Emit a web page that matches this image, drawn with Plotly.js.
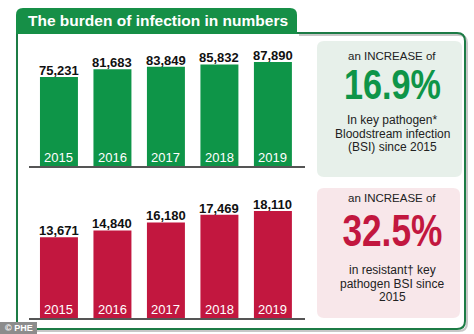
<!DOCTYPE html>
<html>
<head>
<meta charset="utf-8">
<script src="https://cdn.plot.ly/plotly-3.0.1.min.js"></script>
<style>html,body{margin:0;padding:0;background:#fff;}#chart{width:474px;height:334px;}</style>
</head>
<body>
<div id="chart"></div>
<script>
// ---- data ----
const years = ["2015", "2016", "2017", "2018", "2019"];
const bsiTotal = [75231, 81683, 83849, 85832, 87890];
const bsiResistant = [13671, 14840, 16180, 17469, 18110];
const chartTitle = "The burden of infection in numbers";
const topLead = "an INCREASE of";
const topBig = "16.9%";
const topLines = ["In key pathogen*", "Bloodstream infection", "(BSI) since 2015"];
const botLead = "an INCREASE of";
const botBig = "32.5%";
const botLines = ["in resistant\u2020 key", "pathogen BSI since", "2015"];
const credit = "\u00a9 PHE";

// ---- helpers (pixel -> paper) ----
const W = 474, H = 334;
const X = x => x / W;
const Y = y => 1 - y / H;
function P(cmds) {
  return cmds.map(c => {
    const l = c[0]; const v = c.slice(1);
    if (l === 'Z') return 'Z';
    const out = [];
    for (let i = 0; i < v.length; i += 2) out.push(X(v[i]).toFixed(5) + ',' + Y(v[i+1]).toFixed(5));
    return l + out.join(' ');
  }).join(' ');
}
function rrect(x0, y0, x1, y1, r) {
  return P([['M', x0 + r, y0], ['L', x1 - r, y0], ['Q', x1, y0, x1, y0 + r], ['L', x1, y1 - r],
            ['Q', x1, y1, x1 - r, y1], ['L', x0 + r, y1], ['Q', x0, y1, x0, y1 - r], ['L', x0, y0 + r],
            ['Q', x0, y0, x0 + r, y0], ['Z']]);
}

const GREEN = '#0e9548', RED = '#c2173f';
const BASEFONT = 'Liberation Sans, Arial, sans-serif';

const traces = [
  {type: 'bar', x: years, y: bsiTotal, xaxis: 'x', yaxis: 'y', marker: {color: GREEN}, width: 0.71, hoverinfo: 'none'},
  {type: 'bar', x: years, y: bsiResistant, xaxis: 'x2', yaxis: 'y2', marker: {color: RED}, width: 0.71, hoverinfo: 'none'}
];

const annotations = [];
function barLabels(vals, xr, yr) {
  years.forEach((yl, i) => {
    annotations.push({x: i, y: vals[i], xref: xr, yref: yr, text: '<b>' + vals[i].toLocaleString('en-US') + '</b>',
      showarrow: false, xanchor: 'center', yanchor: 'middle', yshift: 6.5, font: {family: BASEFONT, size: 13, color: '#111'}});
    annotations.push({x: i, y: 0, xref: xr, yref: yr, text: yl, showarrow: false, xanchor: 'center', yanchor: 'middle', yshift: 8.5,
      font: {family: BASEFONT, size: 13, color: '#fff'}});
  });
}
barLabels(bsiTotal, 'x', 'y');
barLabels(bsiResistant, 'x2', 'y2');

// title
annotations.push({x: X(26), y: Y(20), xref: 'paper', yref: 'paper', xanchor: 'left', yanchor: 'middle',
  text: '<b>' + chartTitle + '</b>', showarrow: false, font: {family: BASEFONT, size: 15.5, color: '#fff'}});

const bigWidths = {};
function panelText(cx, leadY, lead, bigY, big, bigSize, bigW, color, lineY0, lines) {
  annotations.push({x: X(cx), y: Y(leadY), xref: 'paper', yref: 'paper', text: lead, showarrow: false,
    xanchor: 'center', yanchor: 'middle', font: {family: BASEFONT, size: 11.5, color: '#222'}});
  annotations.push({x: X(cx), y: Y(bigY), xref: 'paper', yref: 'paper', text: '<b>' + big + '</b>', showarrow: false,
    xanchor: 'center', yanchor: 'middle', font: {family: BASEFONT, size: bigSize, color: color}});
  bigWidths[big] = bigW;
  lines.forEach((t, i) => annotations.push({x: X(cx), y: Y(lineY0 + i * 13.5), xref: 'paper', yref: 'paper', text: t,
    showarrow: false, xanchor: 'center', yanchor: 'middle', font: {family: BASEFONT, size: 12, color: '#222'}}));
}
panelText(392, 56, topLead, 84, topBig, 42, 97, GREEN, 120.5, topLines);
panelText(392, 198, botLead, 230, botBig, 44, 100, RED, 270, botLines);

annotations.push({x: X(18.5), y: Y(328), xref: 'paper', yref: 'paper', text: '<b>' + credit + '</b>', showarrow: false,
  xanchor: 'center', yanchor: 'middle', font: {family: BASEFONT, size: 9, color: '#fff'}});

const shapes = [
  {type: 'path', xref: 'paper', yref: 'paper', path: rrect(317, 41, 462, 177, 7), fillcolor: '#e7f0ea', line: {width: 0}, layer: 'below'},
  {type: 'path', xref: 'paper', yref: 'paper', path: rrect(317, 188, 460, 318, 7), fillcolor: '#f8e7ea', line: {width: 0}, layer: 'below'},
  {type: 'path', xref: 'paper', yref: 'paper', path: P([['M', 299, 35], ['L', 459, 35], ['Q', 467, 35, 467, 43], ['L', 467, 323], ['Q', 467, 331, 459, 331], ['L', 19, 331]]),
    line: {color: 'rgba(0,0,0,0.22)', width: 2}, layer: 'below'},
  {type: 'path', xref: 'paper', yref: 'paper', path: P([['M', 297, 33], ['L', 457, 33], ['Q', 465, 33, 465, 41], ['L', 465, 321], ['Q', 465, 329, 457, 329], ['L', 17, 329], ['L', 17, 33]]),
    line: {color: '#1c7b45', width: 2}, layer: 'below'},
  {type: 'path', xref: 'paper', yref: 'paper', path: P([['M', 16, 34], ['L', 16, 15], ['Q', 16, 8, 23, 8], ['L', 290, 8], ['Q', 297, 8, 297, 15], ['L', 297, 34], ['Z']]),
    fillcolor: '#168f47', line: {width: 0}, layer: 'below'},
  {type: 'rect', xref: 'paper', yref: 'paper', x0: 0, x1: X(37), y0: 0, y1: Y(322), fillcolor: '#8c8c8c', line: {width: 0}, layer: 'above'}
];

const xr = [-0.56, 4.6];
const xcommon = {type: 'category', range: xr, showgrid: false, zeroline: false, showticklabels: false, ticks: '',
  showline: true, linecolor: '#555', linewidth: 1.5, fixedrange: true};
const ycommon = {showgrid: false, zeroline: false, showticklabels: false, ticks: '', showline: false, fixedrange: true};

const layout = {
  width: W, height: H, margin: {l: 0, r: 0, t: 0, b: 0},
  paper_bgcolor: '#fff', plot_bgcolor: 'rgba(0,0,0,0)', showlegend: false,
  xaxis: Object.assign({}, xcommon, {domain: [X(29), X(305)], anchor: 'y'}),
  yaxis: Object.assign({}, ycommon, {domain: [Y(166), Y(50)], range: [0, 98031], anchor: 'x'}),
  xaxis2: Object.assign({}, xcommon, {domain: [X(29), X(305)], anchor: 'y2'}),
  yaxis2: Object.assign({}, ycommon, {domain: [Y(318.3), Y(200)], range: [0, 19970], anchor: 'x2'}),
  shapes: shapes, annotations: annotations
};

Plotly.newPlot('chart', traces, layout, {displayModeBar: false, staticPlot: true}).then(gd => {
  // condense the big percentage figures horizontally (the original uses a condensed typeface)
  gd.querySelectorAll('text.annotation-text').forEach(t => {
    const target = bigWidths[t.textContent];
    if (!target) return;
    const b = t.getBBox();
    const s = target / b.width;
    const cx = b.x + b.width / 2;
    t.setAttribute('transform', 'translate(' + cx + ',0) scale(' + s.toFixed(4) + ',1) translate(' + (-cx) + ',0)');
  });
});
</script>
</body>
</html>
